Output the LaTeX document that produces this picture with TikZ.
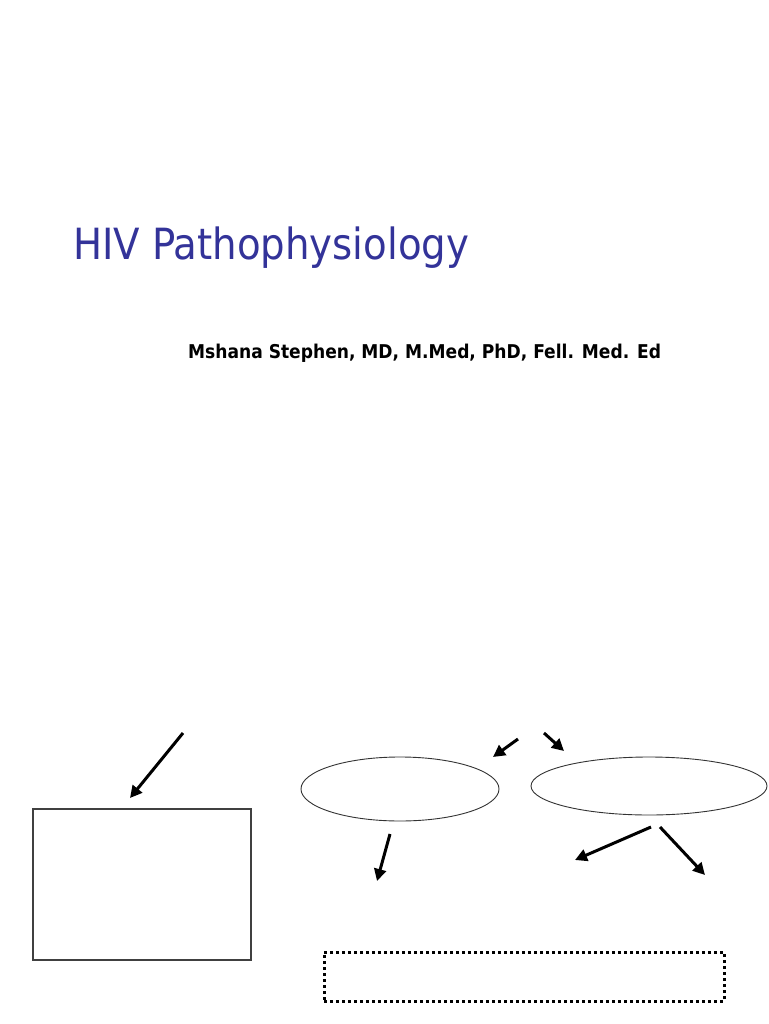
\documentclass[tikz,border=0pt]{standalone}
\usepackage{fontspec}
\setmainfont{DejaVu Sans Condensed}
\usetikzlibrary{shapes.geometric,arrows.meta}
\definecolor{titleblue}{RGB}{51,51,153}
\begin{document}
\begin{tikzpicture}
[x=1pt,y=-1pt,
  arrowdecorate/.style={-{Triangle[length=12pt,width=12pt]},line width=3pt},
  ellipsedecorate/.style={shape=ellipse,draw=black!80,line width=0.9pt,inner sep=0pt},
  boxdecorate/.style={shape=rectangle,draw=black!75,line width=1.2pt,inner sep=0pt},
  dotdecorate/.style={shape=rectangle,draw=black,line width=3pt,dash pattern=on 3pt off 3pt,inner sep=0pt}]
\useasboundingbox (0,0) rectangle (768,1024);
%% texts
\node (title) [anchor=base west,inner sep=0pt,text=titleblue,font=\fontsize{43}{50}\selectfont]
  at (73,259) {HIV Pathophysiology};
\node (author) [anchor=base west,inner sep=0pt,font=\bfseries\fontsize{19}{23}\selectfont]
  at (188,358) {Mshana Stephen, MD, M.Med, PhD, Fell. Med. Ed};
%% boxes and ellipses
\node (box) at (142,884.5) [boxdecorate,minimum width=218pt,minimum height=151pt] {};
\node (left) at (400,789) [ellipsedecorate,minimum width=198pt,minimum height=64pt] {};
\node (right) at (649,786) [ellipsedecorate,minimum width=236pt,minimum height=58pt] {};
\node (bottom) at (524,976.5) [dotdecorate,minimum width=400pt,minimum height=49pt] {};
%% arrow ends
\foreach \name/\x/\y in {a1/183/733, b1/130/798, a2/518/739, b2/493/757,
  a3/544/733, b3/564/751, a4/390/834, b4/377/881,
  a5/651/827, b5/575/860, a6/660/827, b6/705/875}
{
  \coordinate (\name) at (\x,\y);
}
%% arrows
\foreach \i in {1,...,6}
{
  \draw[arrowdecorate] (a\i) -- (b\i);
}
\end{tikzpicture}
\end{document}
